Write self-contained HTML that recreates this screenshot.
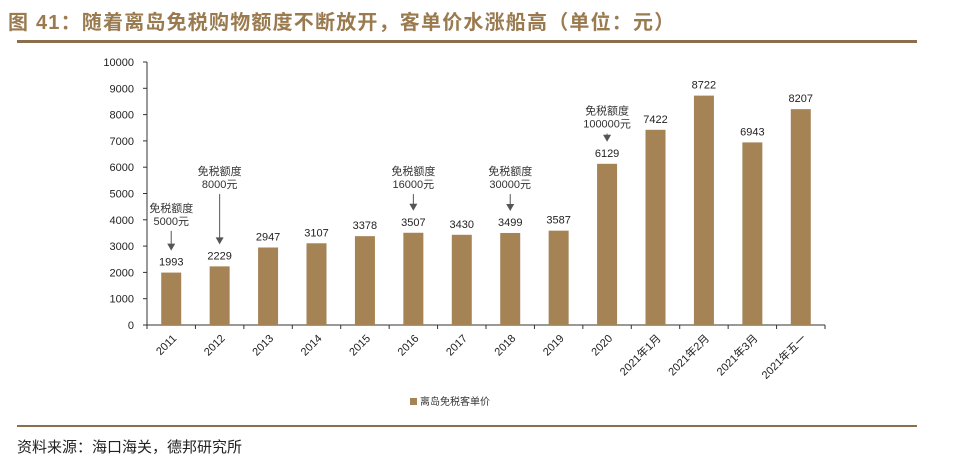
<!DOCTYPE html>
<html><head><meta charset="utf-8"><style>
body{margin:0;background:#fff;}
svg text{font-family:"Liberation Sans","Noto Sans CJK SC",sans-serif;}
</style></head><body>
<svg width="958" height="467">
<text x="8" y="29" font-size="20" letter-spacing="1.2" font-weight="bold" fill="#9a7a4f">图 41：随着离岛免税购物额度不断放开，客单价水涨船高（单位：元）</text>
<rect x="17" y="40" width="900" height="3" fill="#8b6f4c"/>
<g id="plot"></g>
<rect x="410" y="398" width="7" height="7" fill="#a58355"/>
<text x="420" y="405" font-size="10" fill="#333">离岛免税客单价</text>
<rect x="17" y="425" width="900" height="2" fill="#8b6f4c"/>
<text x="17" y="452" font-size="15" fill="#222">资料来源：海口海关，德邦研究所</text>
</svg>
<script>
const categories=["2011","2012","2013","2014","2015","2016","2017","2018","2019","2020","2021年1月","2021年2月","2021年3月","2021年五一"];
const values=[1993,2229,2947,3107,3378,3507,3430,3499,3587,6129,7422,8722,6943,8207];
const yTicks=[0,1000,2000,3000,4000,5000,6000,7000,8000,9000,10000];
const annIdx=[0,1,5,7,9];
const annText=["5000元","8000元","16000元","30000元","100000元"];
const annTop=[4300,5700,5700,5700,8000];
const NS="http://www.w3.org/2000/svg";
const g=document.getElementById('plot');
const x0=147,x1=825,y0=325,y1=62,bw=20;
const step=(x1-x0)/categories.length;
const ys=v=>y0-(v/10000)*(y0-y1);
const xc=i=>x0+step*(i+0.5);
function mk(t,a,p){const e=document.createElementNS(NS,t);for(const k in a)e.setAttribute(k,a[k]);(p||g).appendChild(e);return e;}
let e=mk('line',{x1:x0,y1:y1,x2:x0,y2:y0,stroke:'#333'});


e=mk('line',{x1:x0,y1:y0,x2:x1,y2:y0,stroke:'#333'});


yTicks.forEach(t=>{
 mk('line',{x1:x0-4,y1:ys(t),x2:x0,y2:ys(t),stroke:'#333'});
 e=mk('text',{x:x0-13,y:ys(t)+4,'font-size':11,'text-anchor':'end',fill:'#222'});e.textContent=t;
 
 
});
for(let i=0;i<=categories.length;i++)mk('line',{x1:x0+step*i,y1:y0,x2:x0+step*i,y2:y0+4,stroke:'#333'});
categories.forEach((c,i)=>{
 e=mk('rect',{x:xc(i)-bw/2,y:ys(values[i]),width:bw,height:y0-ys(values[i]),fill:'#a58355'});
 
 
 e=mk('text',{x:xc(i),y:ys(values[i])-7,'font-size':11,'text-anchor':'middle',fill:'#222'});e.textContent=values[i];
 
 
 e=mk('text',{x:xc(i)+6,y:y0+14,'font-size':11,'text-anchor':'end',fill:'#222',transform:`rotate(-45 ${xc(i)+6} ${y0+14})`});e.textContent=c;
 
 
});
annIdx.forEach((i,k)=>{
 const ty=ys(annTop[k]);
 e=mk('text',{x:xc(i),y:ty,'font-size':11,'text-anchor':'middle',fill:'#333'});e.textContent='免税额度';
 
 
 e=mk('text',{x:xc(i),y:ty+13,'font-size':11,'text-anchor':'middle',fill:'#333'});e.textContent=annText[k];
 
 
 const ab=ys(values[i])-22;
 mk('line',{x1:xc(i),y1:ty+19,x2:xc(i),y2:ab-6,stroke:'#555'});
 e=mk('polygon',{points:`${xc(i)-4},${ab-7} ${xc(i)+4},${ab-7} ${xc(i)},${ab}`,fill:'#555'});
 
 
});
</script>
</body></html>
